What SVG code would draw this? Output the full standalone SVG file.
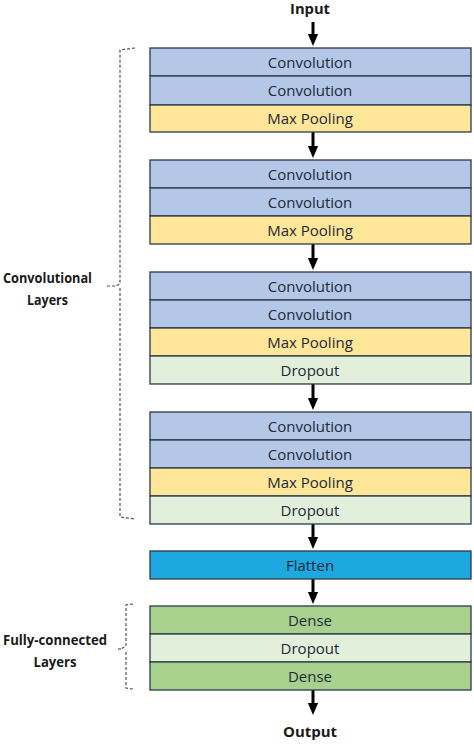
<svg xmlns="http://www.w3.org/2000/svg" width="474" height="744" viewBox="0 0 474 744">
<style>
.box{stroke:#2b3a4a;stroke-width:1.3}
.conv{fill:#b4c7e7}.pool{fill:#ffe699}.drop{fill:#e2efda}.flat{fill:#1ea8e0}.dense{fill:#a9d18e}
.t{font-family:"Open Sans","Liberation Sans",sans-serif;font-size:15px;fill:#1c2a38;text-anchor:middle}
.b{font-family:"Open Sans","Liberation Sans",sans-serif;font-size:14px;font-weight:bold;fill:#1a1a1a;text-anchor:middle}
.ar{stroke:#000;stroke-width:3;fill:none;marker-end:url(#ah)}
.br{stroke:#555;stroke-width:1.2;fill:none;stroke-dasharray:3,2}
</style>
<defs>
<marker id="ah" markerWidth="4" markerHeight="4" refX="2" refY="2" orient="auto" markerUnits="strokeWidth" viewBox="0 0 4 4"><path d="M0,0.3 L4,2 L0,3.7 Z" fill="#000"/></marker>
</defs>
<g id="connectors">
<line class="ar" x1="313" y1="22" x2="313" y2="40"/>
<line class="ar" x1="313" y1="132" x2="313" y2="152"/>
<line class="ar" x1="313" y1="244" x2="313" y2="264"/>
<line class="ar" x1="313" y1="384" x2="313" y2="404"/>
<line class="ar" x1="313" y1="524" x2="313" y2="543"/>
<line class="ar" x1="313" y1="579" x2="313" y2="598"/>
<line class="ar" x1="313" y1="690" x2="313" y2="709"/>
</g>
<g id="input"><text class="b" x="310" y="14" textLength="40" lengthAdjust="spacingAndGlyphs">Input</text></g>
<g id="output"><text class="b" x="310" y="737" textLength="54" lengthAdjust="spacingAndGlyphs">Output</text></g>
<g id="block1">
<rect class="box conv" x="150" y="48" width="321" height="28"/><text class="t" x="310" y="68">Convolution</text>
<rect class="box conv" x="150" y="76" width="321" height="29"/><text class="t" x="310" y="96">Convolution</text>
<rect class="box pool" x="150" y="105" width="321" height="27"/><text class="t" x="310" y="124">Max Pooling</text>
</g>
<g id="block2">
<rect class="box conv" x="150" y="160" width="321" height="28"/><text class="t" x="310" y="180">Convolution</text>
<rect class="box conv" x="150" y="188" width="321" height="28"/><text class="t" x="310" y="208">Convolution</text>
<rect class="box pool" x="150" y="216" width="321" height="28"/><text class="t" x="310" y="236">Max Pooling</text>
</g>
<g id="block3">
<rect class="box conv" x="150" y="272" width="321" height="28"/><text class="t" x="310" y="292">Convolution</text>
<rect class="box conv" x="150" y="300" width="321" height="28"/><text class="t" x="310" y="320">Convolution</text>
<rect class="box pool" x="150" y="328" width="321" height="28"/><text class="t" x="310" y="348">Max Pooling</text>
<rect class="box drop" x="150" y="356" width="321" height="28"/><text class="t" x="310" y="376">Dropout</text>
</g>
<g id="block4">
<rect class="box conv" x="150" y="412" width="321" height="28"/><text class="t" x="310" y="432">Convolution</text>
<rect class="box conv" x="150" y="440" width="321" height="28"/><text class="t" x="310" y="460">Convolution</text>
<rect class="box pool" x="150" y="468" width="321" height="28"/><text class="t" x="310" y="488">Max Pooling</text>
<rect class="box drop" x="150" y="496" width="321" height="28"/><text class="t" x="310" y="516">Dropout</text>
</g>
<g id="flatten">
<rect class="box flat" x="150" y="551" width="321" height="28"/><text class="t" x="310" y="571">Flatten</text>
</g>
<g id="fc">
<rect class="box dense" x="150" y="606" width="321" height="28"/><text class="t" x="310" y="626">Dense</text>
<rect class="box drop" x="150" y="634" width="321" height="28"/><text class="t" x="310" y="654">Dropout</text>
<rect class="box dense" x="150" y="662" width="321" height="28"/><text class="t" x="310" y="682">Dense</text>
</g>
<g id="conv-bracket">
<path class="br" d="M135,48 L120,50 L120,284 L115,286 M120,288 L120,517 L135,519"/>
<path class="br" d="M115,286 L107,286"/>
<text class="b" x="47.5" y="283" textLength="89" lengthAdjust="spacingAndGlyphs">Convolutional</text>
<text class="b" x="47.5" y="305" textLength="41" lengthAdjust="spacingAndGlyphs">Layers</text>
</g>
<g id="fc-bracket">
<path class="br" d="M133,604 L126,605 L126,646 L121,649 M126,652 L126,688 L133,689"/>
<path class="br" d="M121,649 L116,649"/>
<text class="b" x="55" y="645" textLength="104" lengthAdjust="spacingAndGlyphs">Fully-connected</text>
<text class="b" x="55" y="667" textLength="43" lengthAdjust="spacingAndGlyphs">Layers</text>
</g>
</svg>
